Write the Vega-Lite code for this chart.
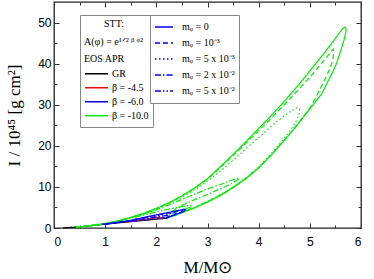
{
"$schema": "https://vega.github.io/schema/vega-lite/v6.json",
"width": 307, "height": 226,
"padding": {"left": 5, "top": 1, "right": 6, "bottom": 0},
"config": {"view": {"stroke": "#222", "strokeWidth": 1.3}, "axis": {"grid": false, "domain": false, "tickColor": "#333", "tickWidth": 1, "labelColor": "#000", "titleColor": "#000"}},
"data": {"values": [
{"model":"GR","mphi":"0","M":0.18,"I":0.04},{"model":"GR","mphi":"0","M":0.25,"I":0.08},{"model":"GR","mphi":"0","M":0.35,"I":0.16},{"model":"GR","mphi":"0","M":0.5,"I":0.3},{"model":"GR","mphi":"0","M":0.75,"I":0.6},{"model":"GR","mphi":"0","M":1.0,"I":0.92},{"model":"GR","mphi":"0","M":1.25,"I":1.24},{"model":"GR","mphi":"0","M":1.5,"I":1.55},{"model":"GR","mphi":"0","M":1.75,"I":1.85},{"model":"GR","mphi":"0","M":2.0,"I":2.15},{"model":"GR","mphi":"0","M":2.12,"I":2.3},{"model":"GR","mphi":"0","M":2.19,"I":2.36},{"model":"GR","mphi":"0","M":2.21,"I":2.3},{"model":"GR","mphi":"0","M":2.2,"I":2.2},

{"model":"-10.0","mphi":"0","M":0.43,"I":0.25},{"model":"-10.0","mphi":"0","M":0.6,"I":0.42},{"model":"-10.0","mphi":"0","M":0.8,"I":0.7},{"model":"-10.0","mphi":"0","M":1.0,"I":1.05},{"model":"-10.0","mphi":"0","M":1.25,"I":1.7},{"model":"-10.0","mphi":"0","M":1.5,"I":2.55},{"model":"-10.0","mphi":"0","M":1.75,"I":3.55},{"model":"-10.0","mphi":"0","M":2.0,"I":4.75},{"model":"-10.0","mphi":"0","M":2.25,"I":6.15},{"model":"-10.0","mphi":"0","M":2.5,"I":7.8},{"model":"-10.0","mphi":"0","M":2.75,"I":9.75},{"model":"-10.0","mphi":"0","M":3.0,"I":12.0},{"model":"-10.0","mphi":"0","M":3.25,"I":14.9},{"model":"-10.0","mphi":"0","M":3.5,"I":17.9},{"model":"-10.0","mphi":"0","M":3.75,"I":21.0},{"model":"-10.0","mphi":"0","M":4.0,"I":24.2},{"model":"-10.0","mphi":"0","M":4.25,"I":27.4},{"model":"-10.0","mphi":"0","M":4.5,"I":30.8},{"model":"-10.0","mphi":"0","M":4.75,"I":34.4},{"model":"-10.0","mphi":"0","M":5.0,"I":38.2},{"model":"-10.0","mphi":"0","M":5.25,"I":42.1},{"model":"-10.0","mphi":"0","M":5.45,"I":45.3},{"model":"-10.0","mphi":"0","M":5.58,"I":47.5},{"model":"-10.0","mphi":"0","M":5.65,"I":48.6},{"model":"-10.0","mphi":"0","M":5.69,"I":48.9},{"model":"-10.0","mphi":"0","M":5.71,"I":48.4},{"model":"-10.0","mphi":"0","M":5.70,"I":47.4},{"model":"-10.0","mphi":"0","M":5.67,"I":45.8},{"model":"-10.0","mphi":"0","M":5.61,"I":43.4},{"model":"-10.0","mphi":"0","M":5.52,"I":40.0},{"model":"-10.0","mphi":"0","M":5.45,"I":38.0},{"model":"-10.0","mphi":"0","M":5.35,"I":35.6},{"model":"-10.0","mphi":"0","M":5.23,"I":32.6},{"model":"-10.0","mphi":"0","M":5.0,"I":29.0},{"model":"-10.0","mphi":"0","M":4.75,"I":25.0},{"model":"-10.0","mphi":"0","M":4.5,"I":21.3},{"model":"-10.0","mphi":"0","M":4.25,"I":17.8},{"model":"-10.0","mphi":"0","M":4.0,"I":14.6},{"model":"-10.0","mphi":"0","M":3.75,"I":12.0},{"model":"-10.0","mphi":"0","M":3.5,"I":9.8},{"model":"-10.0","mphi":"0","M":3.25,"I":7.9},{"model":"-10.0","mphi":"0","M":3.0,"I":6.3},{"model":"-10.0","mphi":"0","M":2.75,"I":4.9},{"model":"-10.0","mphi":"0","M":2.5,"I":3.7},{"model":"-10.0","mphi":"0","M":2.35,"I":3.0},{"model":"-10.0","mphi":"0","M":2.25,"I":2.6},{"model":"-10.0","mphi":"0","M":2.2,"I":2.4},

{"model":"-10.0","mphi":"1e-3","M":0.43,"I":0.25},{"model":"-10.0","mphi":"1e-3","M":0.6,"I":0.42},{"model":"-10.0","mphi":"1e-3","M":0.8,"I":0.7},{"model":"-10.0","mphi":"1e-3","M":1.0,"I":1.05},{"model":"-10.0","mphi":"1e-3","M":1.25,"I":1.7},{"model":"-10.0","mphi":"1e-3","M":1.5,"I":2.55},{"model":"-10.0","mphi":"1e-3","M":1.75,"I":3.55},{"model":"-10.0","mphi":"1e-3","M":2.0,"I":4.75},{"model":"-10.0","mphi":"1e-3","M":2.25,"I":6.15},{"model":"-10.0","mphi":"1e-3","M":2.5,"I":7.8},{"model":"-10.0","mphi":"1e-3","M":2.75,"I":9.7},{"model":"-10.0","mphi":"1e-3","M":3.0,"I":11.9},{"model":"-10.0","mphi":"1e-3","M":3.25,"I":14.7},{"model":"-10.0","mphi":"1e-3","M":3.5,"I":17.6},{"model":"-10.0","mphi":"1e-3","M":3.75,"I":20.6},{"model":"-10.0","mphi":"1e-3","M":4.0,"I":23.7},{"model":"-10.0","mphi":"1e-3","M":4.25,"I":26.8},{"model":"-10.0","mphi":"1e-3","M":4.5,"I":30.0},{"model":"-10.0","mphi":"1e-3","M":4.75,"I":33.3},{"model":"-10.0","mphi":"1e-3","M":5.0,"I":36.7},{"model":"-10.0","mphi":"1e-3","M":5.2,"I":39.6},{"model":"-10.0","mphi":"1e-3","M":5.33,"I":41.6},{"model":"-10.0","mphi":"1e-3","M":5.42,"I":43.0},{"model":"-10.0","mphi":"1e-3","M":5.46,"I":43.5},{"model":"-10.0","mphi":"1e-3","M":5.47,"I":42.8},{"model":"-10.0","mphi":"1e-3","M":5.45,"I":41.0},{"model":"-10.0","mphi":"1e-3","M":5.4,"I":39.0},{"model":"-10.0","mphi":"1e-3","M":5.32,"I":36.8},{"model":"-10.0","mphi":"1e-3","M":5.2,"I":33.8},{"model":"-10.0","mphi":"1e-3","M":5.1,"I":31.4},{"model":"-10.0","mphi":"1e-3","M":5.0,"I":29.2},{"model":"-10.0","mphi":"1e-3","M":4.75,"I":25.1},{"model":"-10.0","mphi":"1e-3","M":4.5,"I":21.4},{"model":"-10.0","mphi":"1e-3","M":4.25,"I":17.9},{"model":"-10.0","mphi":"1e-3","M":4.0,"I":14.7},{"model":"-10.0","mphi":"1e-3","M":3.75,"I":12.1},{"model":"-10.0","mphi":"1e-3","M":3.5,"I":9.9},{"model":"-10.0","mphi":"1e-3","M":3.25,"I":8.0},{"model":"-10.0","mphi":"1e-3","M":3.0,"I":6.4},{"model":"-10.0","mphi":"1e-3","M":2.75,"I":5.0},{"model":"-10.0","mphi":"1e-3","M":2.5,"I":3.8},{"model":"-10.0","mphi":"1e-3","M":2.35,"I":3.05},{"model":"-10.0","mphi":"1e-3","M":2.25,"I":2.65},{"model":"-10.0","mphi":"1e-3","M":2.2,"I":2.4},

{"model":"-10.0","mphi":"5e-3","M":0.43,"I":0.25},{"model":"-10.0","mphi":"5e-3","M":0.6,"I":0.42},{"model":"-10.0","mphi":"5e-3","M":0.8,"I":0.7},{"model":"-10.0","mphi":"5e-3","M":1.0,"I":1.05},{"model":"-10.0","mphi":"5e-3","M":1.25,"I":1.7},{"model":"-10.0","mphi":"5e-3","M":1.5,"I":2.55},{"model":"-10.0","mphi":"5e-3","M":1.75,"I":3.5},{"model":"-10.0","mphi":"5e-3","M":2.0,"I":4.65},{"model":"-10.0","mphi":"5e-3","M":2.25,"I":5.95},{"model":"-10.0","mphi":"5e-3","M":2.5,"I":7.5},{"model":"-10.0","mphi":"5e-3","M":2.75,"I":9.3},{"model":"-10.0","mphi":"5e-3","M":3.0,"I":11.4},{"model":"-10.0","mphi":"5e-3","M":3.25,"I":13.8},{"model":"-10.0","mphi":"5e-3","M":3.5,"I":16.5},{"model":"-10.0","mphi":"5e-3","M":3.75,"I":19.3},{"model":"-10.0","mphi":"5e-3","M":4.0,"I":22.0},{"model":"-10.0","mphi":"5e-3","M":4.25,"I":24.8},{"model":"-10.0","mphi":"5e-3","M":4.5,"I":27.3},{"model":"-10.0","mphi":"5e-3","M":4.65,"I":28.6},{"model":"-10.0","mphi":"5e-3","M":4.76,"I":29.3},{"model":"-10.0","mphi":"5e-3","M":4.8,"I":29.0},{"model":"-10.0","mphi":"5e-3","M":4.79,"I":27.8},{"model":"-10.0","mphi":"5e-3","M":4.74,"I":26.2},{"model":"-10.0","mphi":"5e-3","M":4.65,"I":24.3},{"model":"-10.0","mphi":"5e-3","M":4.5,"I":21.8},{"model":"-10.0","mphi":"5e-3","M":4.35,"I":19.6},{"model":"-10.0","mphi":"5e-3","M":4.2,"I":17.5},{"model":"-10.0","mphi":"5e-3","M":4.0,"I":14.9},{"model":"-10.0","mphi":"5e-3","M":3.75,"I":12.2},{"model":"-10.0","mphi":"5e-3","M":3.5,"I":10.0},{"model":"-10.0","mphi":"5e-3","M":3.25,"I":8.1},{"model":"-10.0","mphi":"5e-3","M":3.0,"I":6.5},{"model":"-10.0","mphi":"5e-3","M":2.75,"I":5.1},{"model":"-10.0","mphi":"5e-3","M":2.5,"I":3.9},{"model":"-10.0","mphi":"5e-3","M":2.35,"I":3.1},{"model":"-10.0","mphi":"5e-3","M":2.25,"I":2.7},{"model":"-10.0","mphi":"5e-3","M":2.2,"I":2.45},

{"model":"-10.0","mphi":"2e-2","M":0.43,"I":0.25},{"model":"-10.0","mphi":"2e-2","M":0.6,"I":0.42},{"model":"-10.0","mphi":"2e-2","M":0.8,"I":0.7},{"model":"-10.0","mphi":"2e-2","M":1.0,"I":1.05},{"model":"-10.0","mphi":"2e-2","M":1.25,"I":1.7},{"model":"-10.0","mphi":"2e-2","M":1.5,"I":2.5},{"model":"-10.0","mphi":"2e-2","M":1.75,"I":3.4},{"model":"-10.0","mphi":"2e-2","M":2.0,"I":4.45},{"model":"-10.0","mphi":"2e-2","M":2.25,"I":5.65},{"model":"-10.0","mphi":"2e-2","M":2.5,"I":6.95},{"model":"-10.0","mphi":"2e-2","M":2.75,"I":8.25},{"model":"-10.0","mphi":"2e-2","M":3.0,"I":9.5},{"model":"-10.0","mphi":"2e-2","M":3.25,"I":10.6},{"model":"-10.0","mphi":"2e-2","M":3.45,"I":11.5},{"model":"-10.0","mphi":"2e-2","M":3.57,"I":12.05},{"model":"-10.0","mphi":"2e-2","M":3.62,"I":12.2},{"model":"-10.0","mphi":"2e-2","M":3.6,"I":11.8},{"model":"-10.0","mphi":"2e-2","M":3.5,"I":11.0},{"model":"-10.0","mphi":"2e-2","M":3.3,"I":9.8},{"model":"-10.0","mphi":"2e-2","M":3.0,"I":8.2},{"model":"-10.0","mphi":"2e-2","M":2.75,"I":6.9},{"model":"-10.0","mphi":"2e-2","M":2.5,"I":5.5},{"model":"-10.0","mphi":"2e-2","M":2.35,"I":4.4},{"model":"-10.0","mphi":"2e-2","M":2.25,"I":3.4},{"model":"-10.0","mphi":"2e-2","M":2.2,"I":2.6},

{"model":"-10.0","mphi":"5e-2","M":0.43,"I":0.25},{"model":"-10.0","mphi":"5e-2","M":0.6,"I":0.42},{"model":"-10.0","mphi":"5e-2","M":0.8,"I":0.7},{"model":"-10.0","mphi":"5e-2","M":1.0,"I":1.05},{"model":"-10.0","mphi":"5e-2","M":1.25,"I":1.65},{"model":"-10.0","mphi":"5e-2","M":1.5,"I":2.4},{"model":"-10.0","mphi":"5e-2","M":1.75,"I":3.15},{"model":"-10.0","mphi":"5e-2","M":2.0,"I":3.9},{"model":"-10.0","mphi":"5e-2","M":2.25,"I":4.6},{"model":"-10.0","mphi":"5e-2","M":2.45,"I":5.1},{"model":"-10.0","mphi":"5e-2","M":2.62,"I":5.45},{"model":"-10.0","mphi":"5e-2","M":2.7,"I":5.5},{"model":"-10.0","mphi":"5e-2","M":2.69,"I":5.2},{"model":"-10.0","mphi":"5e-2","M":2.6,"I":4.8},{"model":"-10.0","mphi":"5e-2","M":2.45,"I":4.2},{"model":"-10.0","mphi":"5e-2","M":2.3,"I":3.4},{"model":"-10.0","mphi":"5e-2","M":2.2,"I":2.6},

{"model":"-4.5","mphi":"0","M":1.4,"I":1.45},{"model":"-4.5","mphi":"0","M":1.6,"I":1.78},{"model":"-4.5","mphi":"0","M":1.8,"I":2.12},{"model":"-4.5","mphi":"0","M":1.95,"I":2.4},{"model":"-4.5","mphi":"0","M":2.04,"I":2.56},{"model":"-4.5","mphi":"0","M":2.07,"I":2.5},{"model":"-4.5","mphi":"0","M":2.09,"I":2.42},{"model":"-4.5","mphi":"0","M":2.13,"I":2.35},

{"model":"-6.0","mphi":"0","M":0.95,"I":0.88},{"model":"-6.0","mphi":"0","M":1.2,"I":1.3},{"model":"-6.0","mphi":"0","M":1.5,"I":1.85},{"model":"-6.0","mphi":"0","M":1.75,"I":2.55},{"model":"-6.0","mphi":"0","M":2.0,"I":3.2},{"model":"-6.0","mphi":"0","M":2.2,"I":3.7},{"model":"-6.0","mphi":"0","M":2.38,"I":4.15},{"model":"-6.0","mphi":"0","M":2.5,"I":4.45},{"model":"-6.0","mphi":"0","M":2.56,"I":4.6},{"model":"-6.0","mphi":"0","M":2.57,"I":4.4},{"model":"-6.0","mphi":"0","M":2.54,"I":4.05},{"model":"-6.0","mphi":"0","M":2.48,"I":3.75},{"model":"-6.0","mphi":"0","M":2.4,"I":3.4},{"model":"-6.0","mphi":"0","M":2.3,"I":2.95},{"model":"-6.0","mphi":"0","M":2.22,"I":2.55},{"model":"-6.0","mphi":"0","M":2.19,"I":2.35},

{"model":"-6.0","mphi":"1e-3","M":0.95,"I":0.88},{"model":"-6.0","mphi":"1e-3","M":1.2,"I":1.3},{"model":"-6.0","mphi":"1e-3","M":1.5,"I":1.84},{"model":"-6.0","mphi":"1e-3","M":1.75,"I":2.5},{"model":"-6.0","mphi":"1e-3","M":2.0,"I":3.1},{"model":"-6.0","mphi":"1e-3","M":2.2,"I":3.55},{"model":"-6.0","mphi":"1e-3","M":2.38,"I":4.0},{"model":"-6.0","mphi":"1e-3","M":2.48,"I":4.25},{"model":"-6.0","mphi":"1e-3","M":2.51,"I":4.2},{"model":"-6.0","mphi":"1e-3","M":2.48,"I":3.85},{"model":"-6.0","mphi":"1e-3","M":2.4,"I":3.4},{"model":"-6.0","mphi":"1e-3","M":2.3,"I":2.95},{"model":"-6.0","mphi":"1e-3","M":2.22,"I":2.55},{"model":"-6.0","mphi":"1e-3","M":2.19,"I":2.35},

{"model":"-6.0","mphi":"5e-3","M":0.95,"I":0.88},{"model":"-6.0","mphi":"5e-3","M":1.2,"I":1.3},{"model":"-6.0","mphi":"5e-3","M":1.5,"I":1.8},{"model":"-6.0","mphi":"5e-3","M":1.75,"I":2.4},{"model":"-6.0","mphi":"5e-3","M":2.0,"I":2.95},{"model":"-6.0","mphi":"5e-3","M":2.2,"I":3.35},{"model":"-6.0","mphi":"5e-3","M":2.35,"I":3.7},{"model":"-6.0","mphi":"5e-3","M":2.4,"I":3.72},{"model":"-6.0","mphi":"5e-3","M":2.38,"I":3.45},{"model":"-6.0","mphi":"5e-3","M":2.3,"I":3.0},{"model":"-6.0","mphi":"5e-3","M":2.22,"I":2.6},{"model":"-6.0","mphi":"5e-3","M":2.19,"I":2.35},

{"model":"-6.0","mphi":"2e-2","M":1.0,"I":0.95},{"model":"-6.0","mphi":"2e-2","M":1.3,"I":1.4},{"model":"-6.0","mphi":"2e-2","M":1.6,"I":1.95},{"model":"-6.0","mphi":"2e-2","M":1.9,"I":2.5},{"model":"-6.0","mphi":"2e-2","M":2.15,"I":2.95},{"model":"-6.0","mphi":"2e-2","M":2.25,"I":3.1},{"model":"-6.0","mphi":"2e-2","M":2.24,"I":2.85},{"model":"-6.0","mphi":"2e-2","M":2.2,"I":2.55},{"model":"-6.0","mphi":"2e-2","M":2.19,"I":2.35},

{"model":"-6.0","mphi":"5e-2","M":1.5,"I":1.56},{"model":"-6.0","mphi":"5e-2","M":1.8,"I":1.95},{"model":"-6.0","mphi":"5e-2","M":2.05,"I":2.35},{"model":"-6.0","mphi":"5e-2","M":2.15,"I":2.55},{"model":"-6.0","mphi":"5e-2","M":2.17,"I":2.45},{"model":"-6.0","mphi":"5e-2","M":2.18,"I":2.35}
]},
"layer": [
{"mark": {"type": "line", "strokeWidth": 1.2},
 "encoding": {
  "x": {"field": "M", "type": "quantitative", "scale": {"domain": [0, 6], "nice": false, "zero": false},
        "axis": {"orient": "bottom", "values": [0,1,2,3,4,5,6], "ticks": false, "labelPadding": 8, "labelFont": "Liberation Sans", "labelFontSize": 12, "title": "M/M⊙", "titleFont": "Liberation Serif", "titleFontSize": 17, "titleFontWeight": "normal", "titlePadding": 12}},
  "y": {"field": "I", "type": "quantitative", "scale": {"domain": [0, 55], "nice": false, "zero": false},
        "axis": {"orient": "left", "values": [0,10,20,30,40,50], "ticks": false, "labelPadding": 3, "labelFont": "Liberation Sans", "labelFontSize": 12, "title": "I / 10⁴⁵ [g cm²]", "titleFont": "Liberation Serif", "titleFontSize": 17, "titleFontWeight": "normal", "titlePadding": 14}},
  "color": {"field": "model", "type": "nominal",
            "scale": {"domain": ["GR", "-4.5", "-6.0", "-10.0"], "range": ["#000000", "#ff0000", "#0000ff", "#00ee00"]},
            "legend": {"orient": "none", "legendX": 26, "legendY": 13, "direction": "vertical",
                       "title": ["\u200b\u2002\u2002\u2002\u2002STT:", "A(φ) = e¹ᐟ² ᵝ ᵠ²", "EOS APR"],
                       "titleFont": "Liberation Serif", "titleFontSize": 10, "titleFontWeight": "normal", "titleLineHeight": 17.5, "titleAnchor": "start", "titleAlign": "left", "titlePadding": 3, "titleColor": "#000",
                       "labelFont": "Liberation Serif", "labelFontSize": 10, "labelColor": "#000", "labelExpr": "datum.label == 'GR' ? 'GR' : 'β = ' + datum.label", "labelOffset": 3,
                       "symbolType": "stroke", "symbolSize": 529, "symbolStrokeWidth": 1.3, "clipHeight": 13.5, "rowPadding": 0, "padding": 4, "strokeColor": "#888", "fillColor": "#ffffff", "cornerRadius": 0}},
  "strokeDash": {"field": "mphi", "type": "nominal",
            "scale": {"domain": ["0", "1e-3", "5e-3", "2e-2", "5e-2"], "range": [[1,0],[5,3],[1.5,2.5],[6,2,1.5,2],[6,2,1.5,2,1.5,2]]},
            "legend": {"orient": "none", "legendX": 96, "legendY": 13, "direction": "vertical", "title": null,
                       "labelFont": "Liberation Serif", "labelFontSize": 10, "labelColor": "#000",
                       "labelExpr": "{'0':'mᵩ = 0','1e-3':'mᵩ = 10⁻³','5e-3':'mᵩ = 5 x 10⁻³','2e-2':'mᵩ = 2 x 10⁻²','5e-2':'mᵩ = 5 x 10⁻²'}[datum.label]", "labelOffset": 8,
                       "symbolType": "stroke", "symbolSize": 324, "symbolStrokeWidth": 1.3, "symbolStrokeColor": "#0000ff", "clipHeight": 16, "rowPadding": 0, "padding": 4, "strokeColor": "#888", "fillColor": "#ffffff", "cornerRadius": 0}},
  "order": {"value": null}
 }},
{"mark": {"type": "point", "opacity": 0},
 "encoding": {
  "x": {"datum": 0, "type": "quantitative", "scale": {"domain": [0, 6], "nice": false, "zero": false}, "axis": {"orient": "bottom", "values": [0,1,2,3,4,5,6], "tickSize": -5, "labels": false, "title": null}},
  "y": {"datum": 0, "type": "quantitative", "scale": {"domain": [0, 55], "nice": false, "zero": false}, "axis": {"orient": "left", "values": [0,10,20,30,40,50], "tickSize": -5, "labels": false, "title": null}}
 }},
{"mark": {"type": "point", "opacity": 0},
 "encoding": {
  "x": {"datum": 0, "type": "quantitative", "axis": {"orient": "bottom", "values": [0.5,1.5,2.5,3.5,4.5,5.5], "tickSize": -3, "labels": false, "title": null}},
  "y": {"datum": 0, "type": "quantitative", "axis": {"orient": "left", "values": [5,15,25,35,45], "tickSize": -3, "labels": false, "title": null}}
 }},
{"mark": {"type": "point", "opacity": 0},
 "encoding": {
  "x": {"datum": 0, "type": "quantitative", "axis": {"orient": "top", "values": [0,1,2,3,4,5,6], "tickSize": -5, "labels": false, "title": null}},
  "y": {"datum": 0, "type": "quantitative", "axis": {"orient": "right", "values": [0,10,20,30,40,50], "tickSize": -5, "labels": false, "title": null}}
 }},
{"mark": {"type": "point", "opacity": 0},
 "encoding": {
  "x": {"datum": 0, "type": "quantitative", "axis": {"orient": "top", "values": [0.5,1.5,2.5,3.5,4.5,5.5], "tickSize": -3, "labels": false, "title": null}},
  "y": {"datum": 0, "type": "quantitative", "axis": {"orient": "right", "values": [5,15,25,35,45], "tickSize": -3, "labels": false, "title": null}}
 }}
],
"resolve": {"axis": {"x": "independent", "y": "independent"}}
}
